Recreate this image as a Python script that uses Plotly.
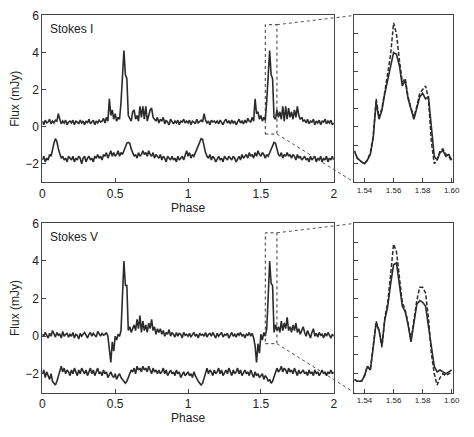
import numpy as np
import plotly.graph_objects as go

# main light curves, sampled every 0.01 in phase (0..2)
phase = np.round(np.arange(201) * 0.01, 2)

stokes_i_upper = [
    0.3, 0.1, 0.35, 0.2, 0.25, 0.4, 0.15, 0.3, 0.2, 0.35,
    0.3, 0.7, 0.4, 0.15, 0.3, 0.2, 0.35, 0.1, 0.25, 0.3,
    0.2, 0.35, 0.1, 0.3, 0.25, 0.15, 0.35, 0.2, 0.3, 0.1,
    0.3, 0.2, 0.4, 0.15, 0.25, 0.35, 0.1, 0.3, 0.2, 0.35,
    0.25, 0.3, 0.45, 0.2, 0.5, 0.3, 1.5, 0.6, 0.9, 0.4,
    0.7, 0.3, 0.5, 0.4, 1.3, 2.6, 4.1, 2.8, 2.6, 0.6,
    0.4, 0.3, 0.8, 0.9, 0.4, 0.6, 0.3, 1.1, 0.5, 1.1,
    0.4, 1.1, 0.3, 0.6, 0.9, 1.0, 0.5, 0.4, 0.3, 0.5,
    0.2, 0.4, 0.3, 0.5, 0.15, 0.35, 0.25, 0.1, 0.4, 0.3,
    0.15, 0.3, 0.2, 0.35, 0.1, 0.3, 0.25, 0.4, 0.2, 0.3,
    0.2, 0.35, 0.1, 0.3, 0.25, 0.15, 0.4, 0.2, 0.3, 0.35,
    0.25, 0.7, 0.35, 0.2, 0.3, 0.1, 0.35, 0.25, 0.3, 0.2,
    0.3, 0.15, 0.35, 0.25, 0.1, 0.3, 0.4, 0.2, 0.3, 0.15,
    0.35, 0.2, 0.3, 0.1, 0.25, 0.4, 0.2, 0.3, 0.15, 0.35,
    0.2, 0.45, 0.3, 0.25, 0.5, 0.3, 1.5, 0.7, 0.8, 0.4,
    0.6, 0.3, 0.5, 0.35, 1.4, 2.7, 4.1, 2.8, 2.6, 0.5,
    0.4, 0.9, 0.5, 0.8, 0.4, 1.1, 0.3, 1.1, 0.4, 1.0,
    0.5, 0.8, 0.4, 0.9, 0.5, 1.1, 0.6, 0.4, 0.5, 0.3,
    0.35, 0.2, 0.4, 0.15, 0.3, 0.25, 0.4, 0.1, 0.3, 0.2,
    0.35, 0.1, 0.3, 0.25, 0.4, 0.15, 0.3, 0.2, 0.35, 0.1,
    0.2]

stokes_i_lower = [
    -1.8, -1.6, -1.9, -1.7, -1.8, -1.5, -1.6, -1.2, -0.9, -0.65,
    -0.8, -1.2, -1.5, -1.7, -1.6, -1.8, -1.7, -1.9, -1.6, -1.7,
    -1.8, -1.6, -1.9, -1.7, -1.8, -1.6, -1.7, -2.0, -1.7, -1.6,
    -1.9, -1.7, -1.6, -1.8, -1.7, -1.9, -1.6, -1.7, -1.5, -1.7,
    -1.6, -1.8, -1.5, -1.6, -1.4, -1.7, -1.5, -1.3, -1.6, -1.4,
    -1.6, -1.5, -1.3, -1.6, -1.4, -1.5, -1.3, -1.1, -0.9, -0.85,
    -0.9, -1.2, -1.4, -1.6, -1.5, -1.7, -1.4, -1.6, -1.5, -1.3,
    -1.5, -1.4, -1.6, -1.3, -1.5, -1.6, -1.4, -1.7, -1.5, -1.6,
    -1.7, -1.5, -1.8, -1.6, -1.7, -1.9, -1.6, -1.7, -1.8, -1.6,
    -1.8, -1.7, -1.9, -1.6, -1.8, -1.7, -1.6, -1.8, -1.5, -1.3,
    -1.6, -1.4, -1.7, -1.5, -1.6, -1.4, -1.3, -1.1, -0.9, -0.65,
    -0.7, -1.1, -1.4, -1.6, -1.7, -1.5, -1.8, -1.6, -1.7, -1.9,
    -1.7, -1.6, -1.8, -1.7, -1.9, -1.6, -1.7, -1.8, -1.6, -1.7,
    -1.8, -1.6, -1.7, -1.9, -1.7, -1.6, -1.8, -1.5, -1.7, -1.6,
    -1.5, -1.7, -1.4, -1.6, -1.5, -1.7, -1.4, -1.6, -1.3, -1.5,
    -1.6, -1.4, -1.5, -1.7, -1.5, -1.6, -1.4, -1.2, -1.0, -0.85,
    -0.9, -1.2, -1.5, -1.6, -1.4, -1.7, -1.5, -1.6, -1.4, -1.6,
    -1.5, -1.7, -1.5, -1.6, -1.8, -1.5, -1.7, -1.6, -1.8, -1.7,
    -1.6, -1.8, -1.7, -1.9, -1.6, -1.8, -1.7, -1.6, -1.9, -1.7,
    -1.8, -1.6, -1.9, -1.7, -1.8, -1.6, -1.9, -1.7, -1.8, -1.6,
    -1.8]

stokes_v_upper = [
    0.1, 0.0, 0.2, 0.05, -0.1, 0.15, 0.0, 0.3, 0.1, -0.05,
    0.2, 0.05, 0.1, -0.1, 0.25, 0.0, 0.1, 0.15, -0.05, 0.1,
    0.0, 0.2, -0.1, 0.1, 0.05, -0.15, 0.15, 0.0, 0.1, 0.2,
    0.05, -0.1, 0.1, 0.2, 0.0, 0.15, 0.05, -0.05, 0.25, 0.1,
    0.0, 0.15, 0.05, 0.1, 0.2, 0.0, -0.6, -1.4, -0.3, -0.8,
    0.0, -0.2, 0.1, 0.0, 0.3, 2.0, 4.0, 2.7, 2.7, 0.3,
    0.5, 0.2, 0.4, 0.6, 0.3, 0.9, 0.4, 1.1, 0.2, 0.8,
    0.3, 0.6, 0.2, 0.7, 0.4, 0.9, 0.3, 0.5, 0.1, 0.4,
    0.2, 0.4, 0.1, 0.3, 0.0, 0.2, 0.1, 0.35, 0.0, 0.2,
    0.1, -0.05, 0.2, 0.0, 0.15, 0.1, -0.1, 0.2, 0.05, 0.1,
    0.0, 0.15, -0.05, 0.1, 0.2, 0.0, 0.1, -0.1, 0.15, 0.05,
    0.1, 0.0, 0.2, -0.05, 0.1, 0.15, 0.0, 0.2, 0.05, -0.1,
    0.15, 0.0, 0.1, 0.2, -0.05, 0.1, 0.05, 0.15, -0.1, 0.1,
    0.2, 0.0, 0.1, -0.05, 0.15, 0.05, 0.2, 0.0, 0.1, -0.1,
    0.1, 0.05, 0.2, 0.0, 0.15, -0.1, -0.5, -1.4, -0.4, -0.9,
    0.1, -0.2, 0.2, 0.0, 0.4, 2.1, 4.0, 2.8, 2.7, 0.2,
    0.6, 0.3, 0.5, 0.2, 0.8, 0.3, 0.7, 0.4, 1.0, 0.3,
    0.5, 0.2, 0.6, 0.3, 0.7, 0.2, 0.4, 0.1, 0.3, 0.5,
    0.2, 0.0, 0.3, 0.1, -0.1, 0.2, 0.4, 0.0, 0.15, -0.05,
    0.2, 0.05, 0.1, -0.1, 0.15, 0.0, 0.2, 0.05, -0.1, 0.1,
    0.0]

stokes_v_lower = [
    -2.0, -1.8, -2.2, -1.9, -2.1, -2.3, -2.0, -2.4, -2.5, -2.6,
    -2.4, -2.1, -1.8, -1.6, -1.9, -1.7, -2.0, -1.8, -1.9, -2.1,
    -1.8, -2.0, -1.7, -1.9, -2.1, -1.8, -2.0, -1.7, -1.9, -2.0,
    -1.8, -2.1, -1.9, -1.7, -2.0, -1.8, -2.1, -1.9, -1.7, -2.0,
    -1.9, -2.1, -1.8, -2.0, -1.9, -2.2, -2.0, -1.9, -2.1, -2.2,
    -2.0, -2.3, -2.1, -2.0, -2.2, -2.3, -2.4, -2.5, -2.4, -2.2,
    -2.0, -1.8, -1.9, -1.7, -2.0, -1.6, -1.8, -1.7, -1.9, -1.6,
    -1.8, -1.7, -1.9, -1.6, -1.8, -2.0, -1.7, -1.9, -1.8, -2.0,
    -1.8, -2.0, -1.9, -1.7, -2.0, -1.8, -2.1, -1.9, -1.8, -2.0,
    -1.9, -2.1, -1.8, -2.0, -1.9, -2.2, -2.0, -1.9, -2.1, -2.0,
    -1.9, -2.1, -2.0, -2.2, -1.9, -2.1, -2.3, -2.4, -2.5, -2.6,
    -2.5, -2.2, -1.9, -1.7, -2.0, -1.8, -1.9, -2.1, -1.8, -2.0,
    -1.9, -1.7, -2.0, -1.8, -2.1, -1.9, -1.8, -2.0, -1.7, -1.9,
    -2.1, -1.8, -2.0, -1.9, -1.7, -2.0, -1.8, -2.1, -1.9, -1.8,
    -2.0, -1.9, -2.1, -1.8, -2.0, -2.2, -1.9, -2.1, -2.0, -2.2,
    -2.1, -2.0, -2.3, -2.1, -2.2, -2.4, -2.3, -2.5, -2.4, -2.2,
    -2.0, -1.7, -1.9, -1.8, -1.6, -1.9, -1.7, -1.8, -2.0, -1.7,
    -1.9, -1.8, -2.0, -1.7, -1.9, -2.1, -1.8, -2.0, -1.9, -1.8,
    -2.0, -1.9, -2.1, -1.8, -2.0, -1.9, -2.1, -1.8, -2.0, -1.9,
    -2.1, -1.9, -1.8, -2.0, -1.9, -2.1, -1.9, -2.0, -1.8, -2.0,
    -1.9]

# zoomed flare (inset)
zoom_phase = [1.533, 1.535, 1.538, 1.540, 1.542, 1.544, 1.546, 1.548, 1.550, 1.552,
              1.554, 1.556, 1.558, 1.560, 1.562, 1.564, 1.566, 1.568, 1.570, 1.572,
              1.574, 1.576, 1.578, 1.580, 1.582, 1.584, 1.586, 1.588, 1.590, 1.592,
              1.594, 1.596, 1.598, 1.600]
zoom_i_solid = [-1.3, -1.7, -1.9, -2.0, -1.8, -1.5, -0.6, 1.3, 0.4, 0.9,
                1.8, 2.6, 3.4, 4.0, 3.9, 3.3, 2.2, 2.5, 1.5, 0.9,
                0.4, 1.0, 1.6, 1.8, 1.5, 1.6, -0.2, -1.6, -1.8, -1.4,
                -1.3, -1.6, -1.5, -1.8]
zoom_i_dashed = [-1.3, -1.7, -1.9, -2.0, -1.8, -1.4, -0.5, 1.5, 0.5, 1.0,
                 1.9, 2.8, 3.9, 5.6, 5.0, 3.6, 2.4, 2.6, 1.6, 1.0,
                 0.5, 1.1, 1.8, 2.0, 2.2, 1.5, -0.8, -2.0, -1.8, -1.3,
                 -1.2, -1.5, -1.6, -1.9]
zoom_v_solid = [-2.3, -2.4, -2.4, -2.1, -1.6, -1.8, -0.6, 0.7, 0.3, -0.5,
                0.9, 1.6, 2.8, 3.8, 3.9, 2.8, 1.6, 1.3, 0.6, -0.3,
                0.8, 1.7, 1.9, 1.8, 1.6, 0.6, -0.6, -1.6, -1.9, -1.8,
                -1.9, -2.0, -1.9, -1.8]
zoom_v_dashed = [-2.3, -2.4, -2.4, -2.1, -1.6, -1.8, -0.5, 0.8, 0.3, -0.6,
                 1.0, 1.8, 3.3, 4.9, 4.5, 3.2, 1.8, 1.4, 0.7, -0.2,
                 0.9, 1.9, 2.6, 2.6, 2.3, 1.0, -0.9, -2.0, -2.6, -2.2,
                 -2.0, -2.1, -2.0, -1.9]

line_col = "#2b2b2b"
font = dict(family="Liberation Sans, Arial, sans-serif", size=12, color="#222")

# page body adds an 8px offset, so the figure is sized 458x421
main_dom = [0.0699, 0.7205]
inset_dom = [0.7664, 0.9869]
top_dom = [0.596, 0.999]
bot_dom = [0.088, 0.4966]
y_rng = [-3, 6]
box_x = [1.53, 1.61]
box_y = [-0.4, 5.5]

fig = go.Figure()


def add_panel(n, ydom, upper, lower, zs, zd, label, box_y):
    xa, ya = "x%d" % (2 * n - 1), "y%d" % (2 * n - 1)
    xb, yb = "x%d" % (2 * n), "y%d" % (2 * n)
    for s in (upper, lower):
        fig.add_trace(go.Scatter(x=phase, y=s, mode="lines", xaxis=xa, yaxis=ya,
                                 line=dict(color=line_col, width=1.6), showlegend=False))
    fig.add_trace(go.Scatter(x=zoom_phase, y=zd, mode="lines", xaxis=xb, yaxis=yb,
                             line=dict(color=line_col, width=1.5, dash="4px,2px"),
                             showlegend=False))
    fig.add_trace(go.Scatter(x=zoom_phase, y=zs, mode="lines", xaxis=xb, yaxis=yb,
                             line=dict(color=line_col, width=1.6), showlegend=False))
    ax = dict(showline=True, mirror=True, linecolor="#444", linewidth=1, ticks="inside",
              ticklen=4, showgrid=False, zeroline=False, tickfont=font)
    sfx = "" if n == 1 else str(2 * n - 1)
    fig.layout["xaxis" + sfx] = dict(ax, domain=main_dom, range=[0, 2], dtick=0.5,
                                      anchor=ya, title=dict(text="Phase", font=font, standoff=2))
    fig.layout["yaxis" + sfx] = dict(ax, domain=ydom, range=y_rng, dtick=2, anchor=xa,
                                      title=dict(text="Flux (mJy)", font=font, standoff=4))
    fig.layout["xaxis%d" % (2 * n)] = dict(ax, domain=inset_dom, range=[1.533, 1.601],
                                           tickvals=[1.54, 1.56, 1.58, 1.60],
                                           ticktext=["1.54", "1.56", "1.58", "1.60"],
                                           tickfont=dict(font, size=8), anchor=yb)
    fig.layout["yaxis%d" % (2 * n)] = dict(ax, domain=ydom, range=y_rng, dtick=1,
                                           showticklabels=False, anchor=xb)
    fig.add_shape(type="rect", xref=xa, yref=ya, x0=box_x[0], x1=box_x[1],
                  y0=box_y[0], y1=box_y[1], line=dict(color="#333", width=1, dash="dot"))
    # connectors from zoom box to inset corners
    px = main_dom[0] + box_x[1] / 2 * (main_dom[1] - main_dom[0])
    h = ydom[1] - ydom[0]
    for by, iy in ((box_y[1], ydom[1]), (box_y[0], ydom[0])):
        py = ydom[0] + (by - y_rng[0]) / (y_rng[1] - y_rng[0]) * h
        fig.add_shape(type="line", xref="paper", yref="paper", x0=px, y0=py,
                      x1=inset_dom[0], y1=iy, line=dict(color="#555", width=1, dash="dot"))
    fig.add_annotation(text=label, xref="paper", yref="paper", x=main_dom[0] + 0.012,
                       y=ydom[1] - 0.012, xanchor="left", yanchor="top", showarrow=False,
                       font=dict(font, size=12))


add_panel(1, top_dom, stokes_i_upper, stokes_i_lower, zoom_i_solid, zoom_i_dashed,
          "Stokes I", box_y)
add_panel(2, bot_dom, stokes_v_upper, stokes_v_lower, zoom_v_solid, zoom_v_dashed,
          "Stokes V", box_y)

fig.update_layout(width=458, height=421, margin=dict(l=0, r=0, t=0, b=0),
                  plot_bgcolor="white", paper_bgcolor="white", font=font)
fig.write_html("out.html")
